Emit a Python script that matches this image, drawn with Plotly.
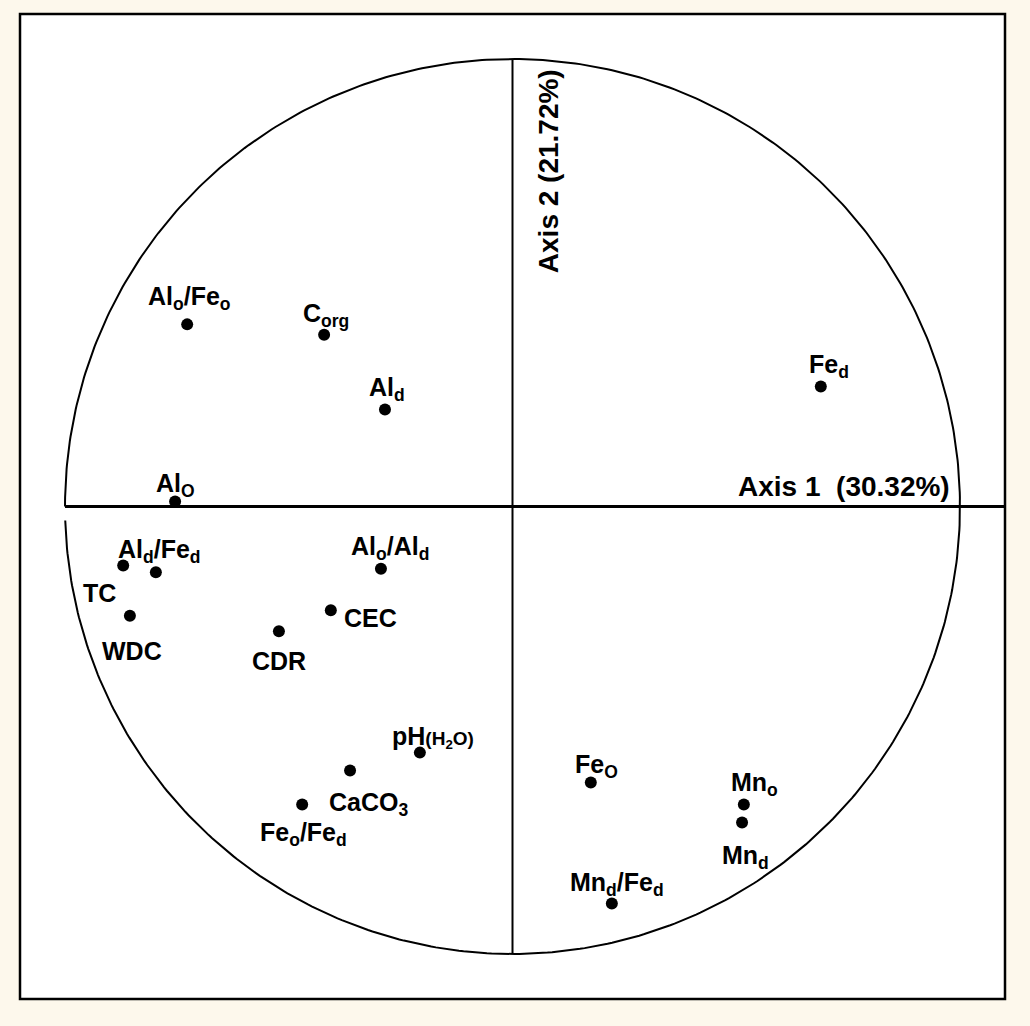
"""
PCA correlation circle (axis 1 vs axis 2) for soil properties.
"""

import numpy as np
import plotly.graph_objects as go

# variable names (as shown on the chart) and their loadings on axis 1 / axis 2
variables = [
    "Al<sub>o</sub>/Fe<sub>o</sub>", "C<sub>org</sub>", "Al<sub>d</sub>", "Fe<sub>d</sub>",
    "Al<sub>O</sub>", "TC", "Al<sub>d</sub>/Fe<sub>d</sub>", "WDC",
    "Al<sub>o</sub>/Al<sub>d</sub>", "CEC", "CDR",
    "pH<span style='font-size:19px'>(H<sub>2</sub>O)</span>", "CaCO<sub>3</sub>",
    "Fe<sub>o</sub>/Fe<sub>d</sub>", "Fe<sub>O</sub>", "Mn<sub>o</sub>", "Mn<sub>d</sub>",
    "Mn<sub>d</sub>/Fe<sub>d</sub>",
]
axis1 = [-0.727, -0.421, -0.285, 0.689, -0.754, -0.870, -0.797, -0.855,
         -0.294, -0.406, -0.522, -0.207, -0.363, -0.470, 0.175, 0.517, 0.513, 0.222]
axis2 = [0.407, 0.384, 0.217, 0.268, 0.011, -0.132, -0.147, -0.244,
         -0.139, -0.232, -0.279, -0.550, -0.590, -0.666, -0.617, -0.666, -0.706, -0.887]

axis1_title = "Axis 1  (30.32%)"
axis2_title = "Axis 2 (21.72%)"

# label offsets in pixels (dx right, dy up) from each point
label_offsets = [
    (2, 26), (2, 20), (2, 20), (8, 21), (0, 17), (-24, -27), (4, 21), (2, -35),
    (9, 21), (40, -8), (0, -30), (13, 16), (18, -33), (1, -29), (6, 17),
    (11, 21), (3, -35), (5, 19),
]

FONT = "Liberation Sans, Arial, sans-serif"
BG = "#fdf8ec"
LIM = 1.1006

fig = go.Figure()

# correlation circle (small gap just under the left end of axis 1)
theta = np.linspace(np.radians(181.8), np.radians(540), 600)
fig.add_trace(go.Scatter(
    x=np.cos(theta), y=np.sin(theta),
    mode="lines", line=dict(color="black", width=2),
    hoverinfo="skip", showlegend=False
))

# axes through the origin
fig.add_shape(type="line", x0=-1, x1=LIM, y0=0, y1=0,
              line=dict(color="black", width=3))
fig.add_shape(type="line", x0=0, x1=0, y0=-1, y1=1,
              line=dict(color="black", width=2))

fig.add_trace(go.Scatter(
    x=axis1, y=axis2, mode="markers",
    marker=dict(color="black", size=12),
    text=variables, hoverinfo="text", showlegend=False
))

for name, x, y, (dx, dy) in zip(variables, axis1, axis2, label_offsets):
    fig.add_annotation(
        x=x, y=y, text=f"<b>{name}</b>", showarrow=False,
        xshift=dx, yshift=dy, xanchor="center", yanchor="middle",
        font=dict(family=FONT, size=25, color="black")
    )

fig.add_annotation(x=0.741, y=0.045, text=f"<b>{axis1_title}</b>", showarrow=False,
                   xanchor="center", yanchor="middle",
                   font=dict(family=FONT, size=28, color="black"))
fig.add_annotation(x=0.079, y=0.749, text=f"<b>{axis2_title}</b>", showarrow=False,
                   textangle=-90, xanchor="center", yanchor="middle",
                   font=dict(family=FONT, size=28, color="black"))

# outer frame
fig.add_shape(type="rect", xref="paper", yref="paper", x0=0, x1=1, y0=0, y1=1,
              line=dict(color="black", width=2.5))

fig.update_layout(
    width=1030, height=1026,
    margin=dict(l=20, r=25, t=14, b=27),
    paper_bgcolor=BG,
    plot_bgcolor="white",
    xaxis=dict(range=[-LIM, LIM], visible=False, fixedrange=True),
    yaxis=dict(range=[-LIM, LIM], visible=False, fixedrange=True),
    showlegend=False
)

# drop the default page margin so the figure sits at the window's top-left
fig.write_html(
    "out.html",
    config={"displayModeBar": False},
    post_script=f"document.body.style.margin='0';document.body.style.background='{BG}';"
)
